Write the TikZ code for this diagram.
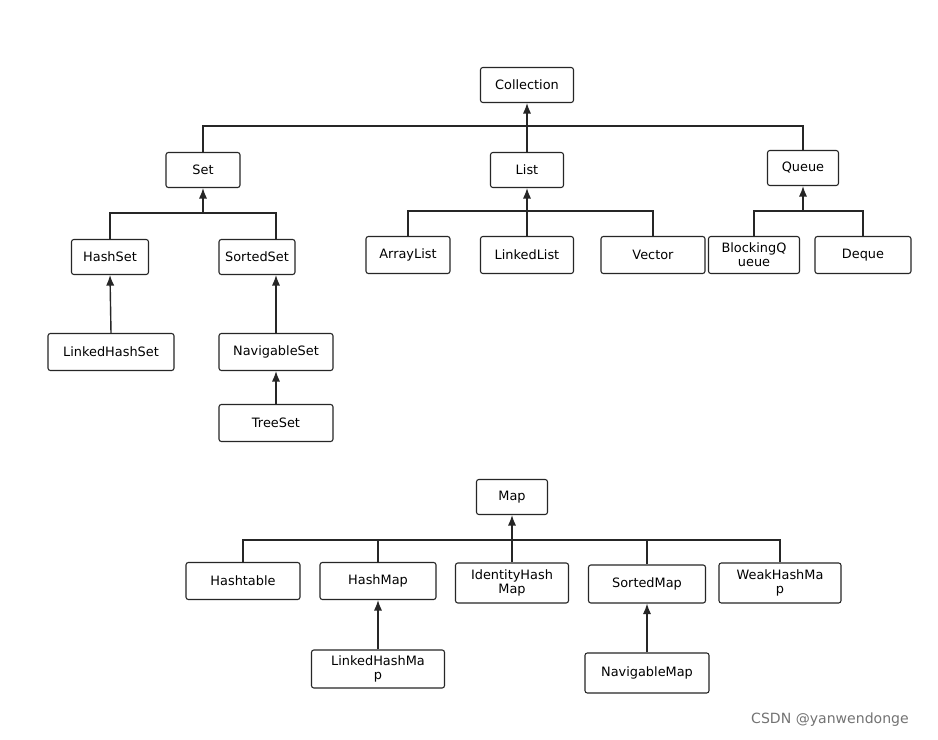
\documentclass[tikz,border=0pt]{standalone}
\usepackage{fontspec}
\setmainfont{DejaVu Sans}
\begin{document}
\begin{tikzpicture}[x=0.03cm,y=-0.03cm,
  box/.style={draw=black!85,line width=0.9pt,rounded corners=2pt,align=center,font=\fontsize{11}{12}\selectfont,inner sep=0pt},
  ln/.style={line width=1.2pt,black!85},
  arr/.style={ln,-{Latex[length=9pt,width=7pt]}}]
\usetikzlibrary{arrows.meta}
\useasboundingbox (0,0) rectangle (938,740);
\fill[white] (0,0) rectangle (938,740);
\newcommand{\bx}[6]{\node[box,minimum width=#4*0.03cm,minimum height=#5*0.03cm] (#1) at (#2,#3) {#6};}
\bx{coll}{527}{85}{93}{35}{Collection}
\bx{set}{203}{170}{74}{35}{Set}
\bx{list}{527}{170}{73}{35}{List}
\bx{queue}{803}{168}{71}{35}{Queue}
\bx{hs}{110}{257}{77}{35}{HashSet}
\bx{ss}{257}{257}{76}{35}{SortedSet}
\bx{lhs}{111}{352}{126}{37}{LinkedHashSet}
\bx{ns}{276}{352}{114}{37}{NavigableSet}
\bx{ts}{276}{423}{114}{37}{TreeSet}
\bx{al}{408}{255}{84}{37}{ArrayList}
\bx{ll}{527}{255}{93}{37}{LinkedList}
\bx{vec}{653}{255}{104}{37}{Vector}
\bx{bq}{754}{255}{91}{37}{BlockingQ\\ueue}
\bx{dq}{863}{255}{96}{37}{Deque}
\bx{map}{512}{497}{71}{35}{Map}
\bx{ht}{243}{581}{114}{37}{Hashtable}
\bx{hm}{378}{581}{116}{37}{HashMap}
\bx{ihm}{512}{583}{113}{40}{IdentityHash\\Map}
\bx{sm}{647}{584}{117}{38}{SortedMap}
\bx{whm}{780}{583}{122}{40}{WeakHashMa\\p}
\bx{lhm}{378}{669}{133}{38}{LinkedHashMa\\p}
\bx{nm}{647}{673}{124}{40}{NavigableMap}
\node[text=black!55,font=\fontsize{12}{14}\selectfont] (wm) at (830,720) {CSDN @yanwendonge};
% Collection
\draw[ln] (set.north) |- (203,126) -- (803,126) -- (queue.north);
\draw[arr] (list.north) -- (coll.south);
% Set
\draw[ln] (hs.north) |- (110,213) -- (276,213) -- (276,239);
\draw[arr] (203,213) -- (set.south);
\draw[arr] (lhs.north) -- (hs.south);
\draw[arr] (ns.north) -- (ss.south -| ns.north);
\draw[arr] (ts.north) -- (ns.south);
% List
\draw[ln] (al.north) |- (408,211) -- (653,211) -- (vec.north);
\draw[arr] (ll.north) -- (list.south);
% Queue
\draw[ln] (bq.north) |- (754,211) -- (863,211) -- (dq.north);
\draw[arr] (803,211) -- (queue.south);
% Map
\draw[ln] (ht.north) |- (243,540) -- (780,540) -- (whm.north);
\draw[ln] (hm.north) -- (378,540);
\draw[ln] (sm.north) -- (647,540);
\draw[arr] (ihm.north) -- (map.south);
\draw[arr] (lhm.north) -- (hm.south);
\draw[arr] (nm.north) -- (sm.south);
\end{tikzpicture}
\end{document}
